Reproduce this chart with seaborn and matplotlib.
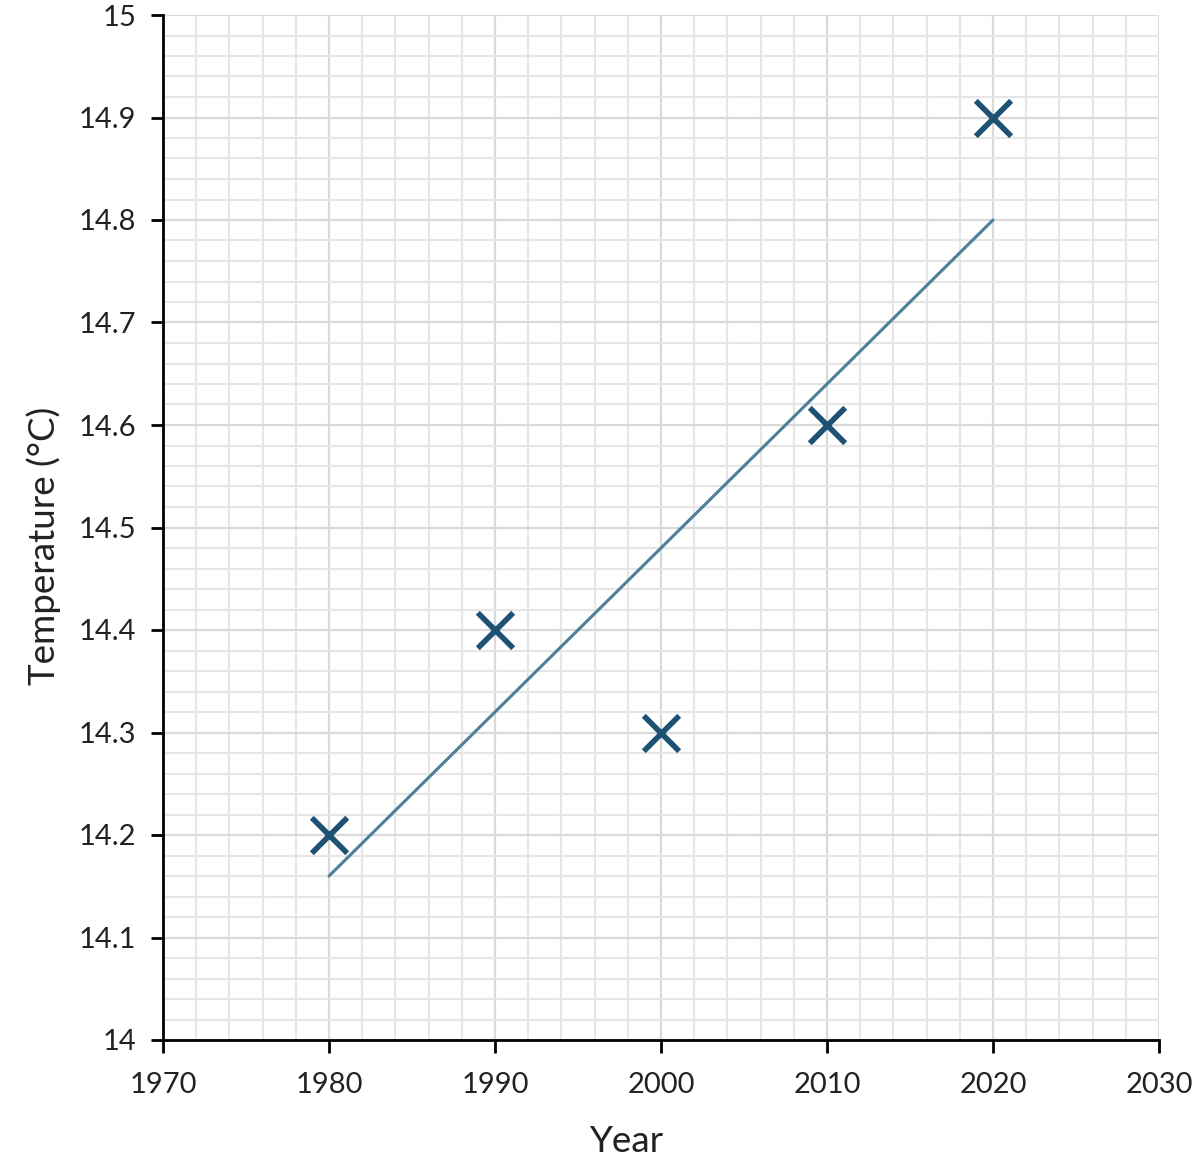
import numpy as np
import pandas as pd
import matplotlib
matplotlib.use("Agg")
import matplotlib.pyplot as plt
from matplotlib.ticker import MultipleLocator
from matplotlib.markers import MarkerStyle
import seaborn as sns

years = [1980, 1990, 2000, 2010, 2020]
temps = [14.2, 14.4, 14.3, 14.6, 14.9]
x_label = "Year"
y_label = "Temperature (°C)"

sns.set_theme(style="white")
plt.rcParams['font.family'] = ['Lato', 'DejaVu Sans']

df = pd.DataFrame({"Year": years, "Temp": temps})

fig = plt.figure(figsize=(12, 11.68), dpi=100)
ax = fig.add_axes([163/1200, 1 - 1040/1168, (1159-163)/1200, (1040-15)/1168])

sns.regplot(data=df, x="Year", y="Temp", ax=ax, ci=None, truncate=True,
            scatter=False, color="#4d7f99",
            line_kws=dict(linewidth=2.2, zorder=3))
xm = MarkerStyle("x", capstyle="round")
sns.scatterplot(data=df, x="Year", y="Temp", ax=ax, marker=xm, s=650,
                linewidth=4, color="#1d5275", zorder=4)

ax.set_xlim(1970, 2030)
ax.set_ylim(14, 15)
ax.xaxis.set_major_locator(MultipleLocator(10))
ax.xaxis.set_minor_locator(MultipleLocator(2))
ax.yaxis.set_major_locator(MultipleLocator(0.1))
ax.yaxis.set_minor_locator(MultipleLocator(0.02))
ax.yaxis.set_major_formatter(plt.FuncFormatter(lambda v, p: f"{v:.0f}" if abs(v - round(v)) < 1e-9 else f"{v:.1f}"))

ax.grid(which="minor", color="#e6e6e6", linewidth=1.5, zorder=0)
ax.grid(which="major", color="#d9d9d9", linewidth=1.6, zorder=0)
ax.set_axisbelow(True)

for s in ["top", "right"]:
    ax.spines[s].set_visible(False)
for s in ["left", "bottom"]:
    ax.spines[s].set_color("black")
    ax.spines[s].set_linewidth(2)

ax.tick_params(which="major", direction="out", length=9, width=2, color="black",
               labelsize=21, labelcolor="#222222", left=True, bottom=True, pad=10)
ax.tick_params(axis="x", which="major", pad=14)
ax.tick_params(which="minor", length=0)

ax.set_xlabel(x_label, fontsize=26.5, color="#222222")
ax.set_ylabel(y_label, fontsize=26.5, color="#222222")
ax.xaxis.set_label_coords(0.465, -0.083)
ax.yaxis.set_label_coords(-0.102, 0.482)

fig.savefig("out.png", dpi=100)
